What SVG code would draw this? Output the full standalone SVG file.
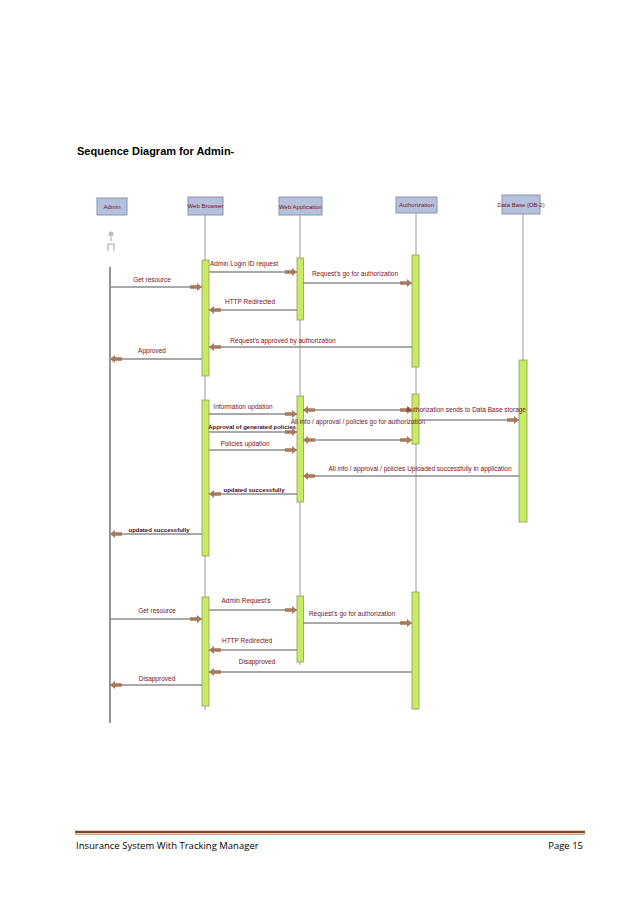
<svg xmlns="http://www.w3.org/2000/svg" width="638" height="903" viewBox="0 0 638 903">
<style>
.hd{fill:#b4c0dc;stroke:#8a94b0;stroke-width:1}
.ht{font-family:"Liberation Sans",sans-serif;font-size:6px;fill:#7a1020;text-anchor:middle}
.ll{stroke:#9a9a9a;stroke-width:1}
.act{fill:#c8ec60;stroke:#8a9a70;stroke-width:0.8}
.m{stroke:#8c8c8c;stroke-width:1.3;fill:none;marker-end:url(#ah)}
.mb{stroke:#8c8c8c;stroke-width:1.3;fill:none;marker-end:url(#ah);marker-start:url(#as)}
.lb{font-family:"Liberation Sans",sans-serif;font-size:6.5px;fill:#7a1020;text-anchor:middle}
.lbb{font-family:"Liberation Sans",sans-serif;font-size:6px;font-weight:bold;fill:#4a0a1a;text-anchor:middle}
</style>
<defs>
<marker id="ah" viewBox="0 0 12 8" refX="12" refY="4" markerWidth="12" markerHeight="8" markerUnits="userSpaceOnUse" orient="auto">
<path d="M0,2.2 H7 V0 L12,4 L7,8 V5.8 H0 Z" fill="#a67a5a"/>
</marker>
<marker id="as" viewBox="0 0 12 8" refX="0" refY="4" markerWidth="12" markerHeight="8" markerUnits="userSpaceOnUse" orient="auto">
<path d="M12,2.2 H5 V0 L0,4 L5,8 V5.8 H12 Z" fill="#a67a5a"/>
</marker>
</defs>
<rect width="638" height="903" fill="#fff"/>
<text x="77" y="155" font-family="Liberation Sans,sans-serif" font-size="11" font-weight="bold">Sequence Diagram for Admin-</text>

<g id="admin">
<rect class="hd" x="97" y="198" width="30" height="17"/><text class="ht" x="112" y="208.5">Admin</text>
<circle cx="111" cy="234" r="2.5" fill="#bbb"/><path d="M111,237 V241 M108,244 V251 M114,244 V251 M108,244 H114" stroke="#888" stroke-width="0.8" fill="none"/>
<line x1="110" y1="267" x2="110" y2="723" stroke="#8a8a8a" stroke-width="1.8"/>
</g>
<g id="webbrowser">
<rect class="hd" x="188" y="197" width="35" height="18"/><text class="ht" x="205.5" y="208">Web Browser</text>
<line class="ll" x1="205" y1="215" x2="205" y2="710"/>
<rect class="act" x="202" y="260" width="7" height="116"/>
<rect class="act" x="202" y="400" width="7" height="156"/>
<rect class="act" x="202" y="597" width="7" height="109"/>
</g>
<g id="webapp">
<rect class="hd" x="279" y="197" width="43" height="18"/><text class="ht" x="300.5" y="208.5">Web Application</text>
<line class="ll" x1="300" y1="215" x2="300" y2="665"/>
<rect class="act" x="297" y="258" width="6.5" height="62"/>
<rect class="act" x="297" y="396" width="6.5" height="106"/>
<rect class="act" x="297" y="596" width="6.5" height="66"/>
</g>
<g id="authorization">
<rect class="hd" x="396" y="197" width="41" height="16"/><text class="ht" x="416.5" y="207">Authorization</text>
<line class="ll" x1="416" y1="213" x2="416" y2="710"/>
<rect class="act" x="412" y="255" width="7" height="112"/>
<rect class="act" x="412" y="394" width="7" height="50"/>
<rect class="act" x="412" y="592" width="7" height="117"/>
</g>
<g id="database">
<rect class="hd" x="502" y="195" width="38" height="19"/><text class="ht" x="521" y="206.5">Data Base (DB-2)</text>
<line class="ll" x1="523" y1="214" x2="523" y2="522"/>
<rect class="act" x="519" y="360" width="8" height="162"/>
</g>

<g id="connectors">
<line class="m" x1="209" y1="272" x2="297" y2="272"/><text class="lb" x="244" y="266">Admin Login ID request</text>
<line class="m" x1="110" y1="287" x2="202" y2="287"/><text class="lb" x="152" y="282">Get resource</text>
<line class="m" x1="303" y1="283" x2="412" y2="283"/><text class="lb" x="355" y="276">Request's go for authorization</text>
<line class="m" x1="297" y1="310" x2="209" y2="310"/><text class="lb" x="250" y="304">HTTP Redirected</text>
<line class="m" x1="412" y1="347" x2="209" y2="347"/><text class="lb" x="283" y="343">Request's approved by authorization</text>
<line class="m" x1="202" y1="359" x2="110" y2="359"/><text class="lb" x="152" y="353">Approved</text>

<line class="m" x1="209" y1="414" x2="297" y2="414"/><text class="lb" x="243" y="409">Information updation</text>
<line class="m" x1="209" y1="432" x2="297" y2="432"/><text class="lbb" x="252" y="429">Approval of generated policies</text>
<line class="m" x1="209" y1="450" x2="297" y2="450"/><text class="lb" x="245" y="446">Policies updation</text>
<line class="mb" x1="303" y1="410" x2="412" y2="410"/>
<line class="mb" x1="303" y1="440" x2="412" y2="440"/>
<text class="lb" x="358" y="424">All info / approval / policies go for authorization</text>
<line class="m" x1="419" y1="420" x2="519" y2="420"/><text class="lb" x="466" y="412">Authorization sends to Data Base storage</text>
<line class="m" x1="519" y1="476" x2="303" y2="476"/><text class="lb" x="420" y="471">All info / approval / policies Uploaded successfully in application</text>
<line class="m" x1="297" y1="494" x2="209" y2="494"/><text class="lbb" x="254" y="492">updated successfully</text>
<line class="m" x1="202" y1="534" x2="110" y2="534"/><text class="lbb" x="159" y="532">updated successfully</text>

<line class="m" x1="209" y1="610" x2="297" y2="610"/><text class="lb" x="246" y="603">Admin Request's</text>
<line class="m" x1="110" y1="619" x2="202" y2="619"/><text class="lb" x="157" y="613">Get resource</text>
<line class="m" x1="303" y1="623" x2="412" y2="623"/><text class="lb" x="352" y="616">Request's go for authorization</text>
<line class="m" x1="297" y1="650" x2="209" y2="650"/><text class="lb" x="247" y="643">HTTP Redirected</text>
<line class="m" x1="412" y1="672" x2="209" y2="672"/><text class="lb" x="257" y="664">Disapproved</text>
<line class="m" x1="202" y1="685" x2="110" y2="685"/><text class="lb" x="157" y="681">Disapproved</text>
</g>

<line x1="75" y1="832" x2="585" y2="832" stroke="#7a4a20" stroke-width="2.5"/>
<line x1="75" y1="834.5" x2="585" y2="834.5" stroke="#c09070" stroke-width="0.8"/>
<text x="76" y="849" font-family="Open Sans,sans-serif" font-size="9.5">Insurance System With Tracking Manager</text>
<text x="583" y="849" font-family="Open Sans,sans-serif" font-size="9.5" text-anchor="end">Page 15</text>
</svg>
